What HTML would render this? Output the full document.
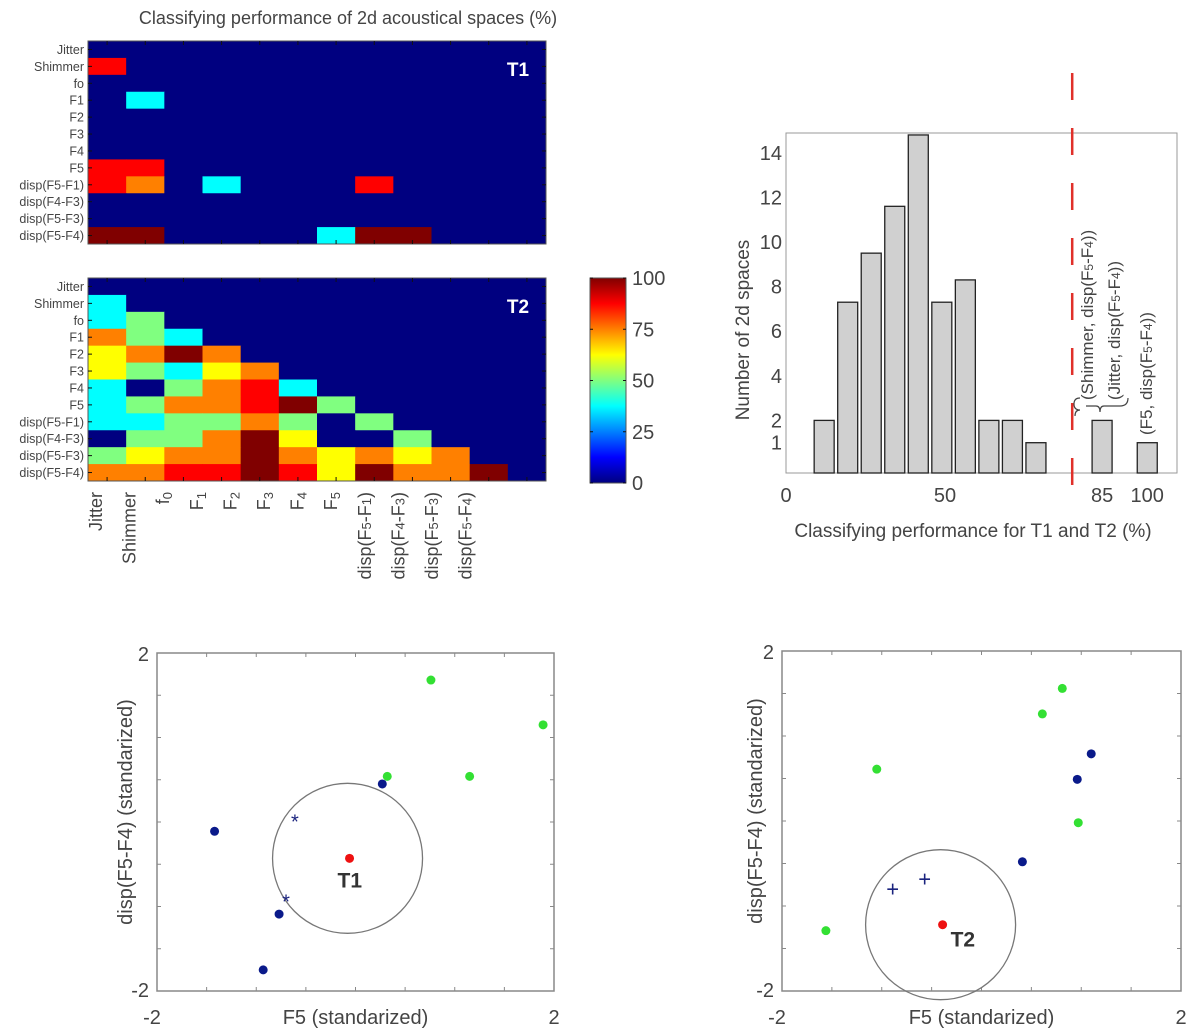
<!DOCTYPE html>
<html><head><meta charset="utf-8"><style>
body{margin:0;background:#fff;}
svg{display:block;font-family:"Liberation Sans",sans-serif;}
</style></head><body>
<svg id="fig" width="1200" height="1035" viewBox="0 0 1200 1035" xmlns="http://www.w3.org/2000/svg">
<defs>
<linearGradient id="jet" x1="0" y1="1" x2="0" y2="0">
<stop offset="0" stop-color="#000080"/><stop offset="0.125" stop-color="#0000ff"/><stop offset="0.375" stop-color="#00ffff"/><stop offset="0.5" stop-color="#80ff80"/><stop offset="0.625" stop-color="#ffff00"/><stop offset="0.875" stop-color="#ff0000"/><stop offset="1" stop-color="#800000"/>
</linearGradient>
</defs>
<text x="348" y="24" text-anchor="middle" font-size="18" fill="#444">Classifying performance of 2d acoustical spaces (%)</text>
<g id="hm1"></g>
<g id="hm2"></g>
<g id="cbar"></g>
<g id="hist"></g>
<g id="sc1"></g>
<g id="sc2"></g>
</svg>
<script>
const features = ["Jitter","Shimmer","fo","F1","F2","F3","F4","F5","disp(F5-F1)","disp(F4-F3)","disp(F5-F3)","disp(F5-F4)"];
const xFeatureLabels = ["Jitter","Shimmer","f<tspan font-size='13' dy='3'>0</tspan>","F<tspan font-size='13' dy='3'>1</tspan>","F<tspan font-size='13' dy='3'>2</tspan>","F<tspan font-size='13' dy='3'>3</tspan>","F<tspan font-size='13' dy='3'>4</tspan>","F<tspan font-size='13' dy='3'>5</tspan>","disp(F<tspan font-size='13'>5</tspan>-F<tspan font-size='13'>1</tspan>)","disp(F<tspan font-size='13'>4</tspan>-F<tspan font-size='13'>3</tspan>)","disp(F<tspan font-size='13'>5</tspan>-F<tspan font-size='13'>3</tspan>)","disp(F<tspan font-size='13'>5</tspan>-F<tspan font-size='13'>4</tspan>)"];
const t1Values = [
[0,0,0,0,0,0,0,0,0,0,0,0],
[87.5,0,0,0,0,0,0,0,0,0,0,0],
[0,0,0,0,0,0,0,0,0,0,0,0],
[0,37.5,0,0,0,0,0,0,0,0,0,0],
[0,0,0,0,0,0,0,0,0,0,0,0],
[0,0,0,0,0,0,0,0,0,0,0,0],
[0,0,0,0,0,0,0,0,0,0,0,0],
[87.5,87.5,0,0,0,0,0,0,0,0,0,0],
[87.5,75,0,37.5,0,0,0,87.5,0,0,0,0],
[0,0,0,0,0,0,0,0,0,0,0,0],
[0,0,0,0,0,0,0,0,0,0,0,0],
[100,100,0,0,0,0,37.5,100,100,0,0,0]];
const t2Values = [
[0,0,0,0,0,0,0,0,0,0,0,0],
[37.5,0,0,0,0,0,0,0,0,0,0,0],
[37.5,50,0,0,0,0,0,0,0,0,0,0],
[75,50,37.5,0,0,0,0,0,0,0,0,0],
[62.5,75,100,75,0,0,0,0,0,0,0,0],
[62.5,50,37.5,62.5,75,0,0,0,0,0,0,0],
[37.5,0,50,75,87.5,37.5,0,0,0,0,0,0],
[37.5,50,75,75,87.5,100,50,0,0,0,0,0],
[37.5,37.5,50,50,75,50,0,50,0,0,0,0],
[0,50,50,75,100,62.5,0,0,50,0,0,0],
[50,62.5,75,75,100,75,62.5,75,62.5,75,0,0],
[75,75,87.5,87.5,100,87.5,62.5,100,75,75,100,0]];
const cbarTicks = [0,25,50,75,100];
const histX = [12,19.4,26.8,34.2,41.6,49,56.4,63.8,71.2,78.6,99.4,113.6];
const histCounts = [2,7.3,9.5,11.6,14.8,7.3,8.3,2,2,1,2,1];
const histXTickVals = [0,50,99.4,113.6];
const histXTickLabels = ["0","50","85","100"];
const histYTicks = [1,2,4,6,8,10,12,14];
const threshold = 90;
const s1BlueX = [-1.42,0.27,-0.77,-0.93];
const s1BlueY = [-0.11,0.45,-1.09,-1.75];
const s1GreenX = [0.76,1.89,0.32,1.15];
const s1GreenY = [1.68,1.15,0.54,0.54];
const s1StarX = [-0.61,-0.70];
const s1StarY = [0.03,-0.92];
const s1Target = [-0.06,-0.43];
const s2BlueX = [1.10,0.96,0.41];
const s2BlueY = [0.79,0.49,-0.48];
const s2GreenX = [0.81,0.61,-1.05,0.97,-1.56];
const s2GreenY = [1.56,1.26,0.61,-0.02,-1.29];
const s2PlusX = [-0.89,-0.57];
const s2PlusY = [-0.82,-0.70];
const s2Target = [-0.39,-1.22];

const NS="http://www.w3.org/2000/svg";
function mk(parent,tag,attrs){const e=document.createElementNS(NS,tag);for(const k in attrs)e.setAttribute(k,attrs[k]);parent.appendChild(e);return e;}
function jet(v){const t=v/100;const c=x=>Math.round(255*Math.max(0,Math.min(1,x)));return `rgb(${c(1.5-Math.abs(4*t-3))},${c(1.5-Math.abs(4*t-2))},${c(1.5-Math.abs(4*t-1))})`;}

function heatmap(g,vals,y0,label,showX){
  const x0=88,w=458,h=203,cw=w/12,ch=h/12;
  const cx=j=>x0+j*cw, cy=i=>y0+i*ch;
  vals.forEach((row,i)=>row.forEach((v,j)=>{
    const r=mk(g,'rect',{x:cx(j),y:cy(i),width:cw+0.5,height:ch+0.5,fill:jet(v)});
    
    
  }));
  mk(g,'rect',{x:x0,y:y0,width:w,height:h,fill:'none',stroke:'#555','stroke-width':1});
  for(let j=0;j<12;j++){const x=cx(j)+cw/2;mk(g,'line',{x1:x,x2:x,y1:y0+h,y2:y0+h-4,stroke:'#111'});mk(g,'line',{x1:x,x2:x,y1:y0,y2:y0+4,stroke:'#111'});}
  features.forEach((f,i)=>{
    const y=cy(i)+ch/2;
    mk(g,'line',{x1:x0,x2:x0+4,y1:y,y2:y,stroke:'#111'});mk(g,'line',{x1:x0+w,x2:x0+w-4,y1:y,y2:y,stroke:'#111'});
    const t=mk(g,'text',{x:x0-4,y:y+4.5,'text-anchor':'end','font-size':12.5,fill:'#444','textLength':'' });
    t.removeAttribute('textLength');
    t.textContent=f;
    
    
  });
  const tl=mk(g,'text',{x:x0+w-28,y:y0+35,'text-anchor':'middle','font-size':19,'font-weight':'bold',fill:'#fff'});
  tl.textContent=label;
  
  
  if(showX){
    xFeatureLabels.forEach((f,j)=>{
      const x=95+j*33.6;
      const t=mk(g,'text',{transform:`translate(${x+7},492) rotate(-90)`,'text-anchor':'end','font-size':18,fill:'#444'});
      t.innerHTML=f;
      
      
    });
  }
}
heatmap(document.getElementById('hm1'),t1Values,41,'T1',false);
heatmap(document.getElementById('hm2'),t2Values,278,'T2',true);

// colorbar
(function(){const g=document.getElementById('cbar');const x0=590,y0=278,w=36,h=205;
mk(g,'rect',{x:x0,y:y0,width:w,height:h,fill:'url(#jet)',stroke:'#555'});
const sy=v=>y0+h-v/100*h;
cbarTicks.forEach(v=>{mk(g,'line',{x1:x0,x2:x0+3,y1:sy(v),y2:sy(v),stroke:'#111'});mk(g,'line',{x1:x0+w,x2:x0+w-3,y1:sy(v),y2:sy(v),stroke:'#111'});
const t=mk(g,'text',{x:x0+w+6,y:sy(v)+7,'font-size':20,fill:'#444'});t.textContent=v;

});})();

// histogram
(function(){const g=document.getElementById('hist');const x0=786,x1=1177,y0=133,y1=473;
const sx=v=>x0+v*3.18, sy=v=>465-v*22.3, bw=20;
mk(g,'rect',{x:x0,y:y0,width:x1-x0,height:y1-y0,fill:'none',stroke:'#999'});
histCounts.forEach((c,i)=>{const r=mk(g,'rect',{x:sx(histX[i])-bw/2,y:sy(c),width:bw,height:y1-sy(c),fill:'#d0d0d0',stroke:'#222','stroke-width':1.3});

});
histYTicks.forEach(v=>{const t=mk(g,'text',{x:782,y:sy(v)+7,'text-anchor':'end','font-size':20,fill:'#444'});t.textContent=v;

});
histXTickVals.forEach((v,i)=>{const t=mk(g,'text',{x:sx(v),y:502,'text-anchor':'middle','font-size':20,fill:'#444'});t.textContent=histXTickLabels[i];

});
const dl=mk(g,'line',{x1:sx(threshold),x2:sx(threshold),y1:73,y2:486,stroke:'#e0302a','stroke-width':2.5,'stroke-dasharray':'27 28'});


const yl=mk(g,'text',{transform:'translate(749,330) rotate(-90)','text-anchor':'middle','font-size':19,fill:'#444'});yl.textContent='Number of 2d spaces';


const xl=mk(g,'text',{x:973,y:537,'text-anchor':'middle','font-size':19,fill:'#444'});xl.textContent='Classifying performance for T1 and T2 (%)';


const sub=s=>`<tspan font-size='12'>${s}</tspan>`;
const ann=[[1093,400,`(Shimmer, disp(F${sub(5)}-F${sub(4)}))`],[1120,400,`(Jitter, disp(F${sub(5)}-F${sub(4)}))`],[1152,435,`(F5, disp(F${sub(5)}-F${sub(4)}))`]];
ann.forEach(a=>{const t=mk(g,'text',{transform:`translate(${a[0]},${a[1]}) rotate(-90)`,'font-size':17,fill:'#444'});t.innerHTML=a[2];

});
const br=mk(g,'path',{d:'M1080,398 Q1074,398 1074,404 Q1074,410 1080,410 Q1075,410 1075,416 M1128,398 Q1128,406 1120,406 L1104,406 Q1100,406 1100,412 Q1100,406 1096,406 L1086,406',fill:'none',stroke:'#444','stroke-width':1.2});


})();

// scatter
function scatter(g,x0,x1,y0,y1,bx,by,gx,gy,mx,my,mark,tgt,label,labOff,ylx){
  const sx=v=>x0+(v+2)/4*(x1-x0), sy=v=>y1-(v+2)/4*(y1-y0);
  mk(g,'rect',{x:x0,y:y0,width:x1-x0,height:y1-y0,fill:'none',stroke:'#888','stroke-width':1.5});
  for(let k=1;k<8;k++){const x=x0+k*(x1-x0)/8,y=y0+k*(y1-y0)/8;
    mk(g,'line',{x1:x,x2:x,y1:y1,y2:y1-4,stroke:'#888'});mk(g,'line',{x1:x,x2:x,y1:y0,y2:y0+4,stroke:'#888'});
    mk(g,'line',{x1:x0,x2:x0+4,y1:y,y2:y,stroke:'#888'});mk(g,'line',{x1:x1,x2:x1-4,y1:y,y2:y,stroke:'#888'});}
  const c=mk(g,'circle',{cx:sx(tgt[0])-2,cy:sy(tgt[1]),r:75,fill:'none',stroke:'#777','stroke-width':1.3});
  
  
  gx.forEach((v,i)=>{const p=mk(g,'circle',{cx:sx(v),cy:sy(gy[i]),r:4.5,fill:'#33e033'});
    
    });
  bx.forEach((v,i)=>{const p=mk(g,'circle',{cx:sx(v),cy:sy(by[i]),r:4.5,fill:'#0a1a8a'});
    
    });
  mx.forEach((v,i)=>{const t=mk(g,'text',{x:sx(v),y:sy(my[i])+(mark==='*'?9:6),'text-anchor':'middle','font-size':mark==='*'?20:22,fill:'#1a237e'});t.textContent=mark;
    
    });
  const r=mk(g,'circle',{cx:sx(tgt[0]),cy:sy(tgt[1]),r:4.5,fill:'#ee1111'});
  
  
  const tl=mk(g,'text',{x:sx(tgt[0])+labOff[0],y:sy(tgt[1])+labOff[1],'font-size':21,'font-weight':'bold',fill:'#333'});tl.textContent=label;
  
  
  const tk=[[x0-8,y0+8,'end','2','y-tick-label'],[x0-8,y1+6,'end','-2','y-tick-label'],[x0-5,y1+33,'middle','-2','x-tick-label'],[x1,y1+33,'middle','2','x-tick-label']];
  tk.forEach(a=>{const t=mk(g,'text',{x:a[0],y:a[1],'text-anchor':a[2],'font-size':20,fill:'#444'});t.textContent=a[3];
    
    });
  const xl=mk(g,'text',{x:(x0+x1)/2,y:y1+33,'text-anchor':'middle','font-size':20,fill:'#444'});xl.textContent='F5 (standarized)';
  
  
  const yl=mk(g,'text',{transform:`translate(${ylx},${(y0+y1)/2-10}) rotate(-90)`,'text-anchor':'middle','font-size':20,fill:'#444'});yl.textContent='disp(F5-F4) (standarized)';
  
  
}
scatter(document.getElementById('sc1'),157,554,653,991,s1BlueX,s1BlueY,s1GreenX,s1GreenY,s1StarX,s1StarY,'*',s1Target,'T1',[-12,29],132);
scatter(document.getElementById('sc2'),782,1181,651,991,s2BlueX,s2BlueY,s2GreenX,s2GreenY,s2PlusX,s2PlusY,'+',s2Target,'T2',[8,22],762);
</script>
</body></html>
